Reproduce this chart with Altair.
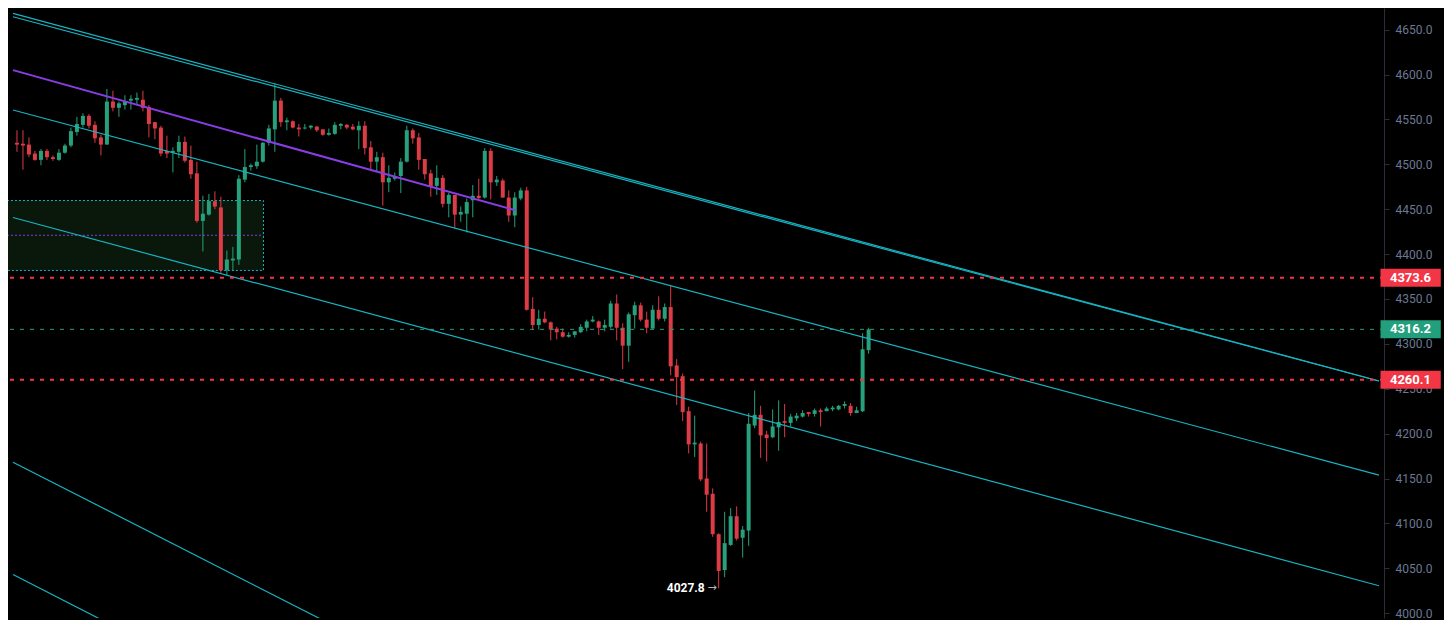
import altair as alt
import pandas as pd

# ---------------- candle data ----------------
opens = [4524, 4523, 4522, 4512, 4505, 4515, 4508, 4505, 4513, 4521,
         4536, 4544, 4554, 4544, 4530, 4522, 4570, 4563, 4566, 4571,
         4572, 4572, 4564, 4547, 4541, 4515, 4513, 4514, 4525, 4505,
         4490, 4437, 4444, 4459, 4452, 4382, 4393, 4394, 4483, 4497,
         4498, 4503, 4524, 4539, 4571, 4547, 4548, 4541, 4540, 4541,
         4542, 4539, 4533, 4534, 4543, 4544, 4542, 4538, 4543, 4519,
         4503, 4508, 4480, 4484, 4487, 4503, 4538, 4530, 4506, 4490,
         4476, 4485, 4456, 4466, 4444, 4445, 4460, 4465, 4463, 4515,
         4480, 4482, 4463, 4443, 4462, 4471, 4339, 4321, 4328, 4324,
         4317, 4313, 4308, 4310, 4313, 4318, 4325, 4325, 4318, 4319,
         4345, 4318, 4298, 4332, 4343, 4327, 4317, 4338, 4328, 4341,
         4276, 4264, 4225, 4188, 4189, 4150, 4133, 4088, 4048, 4076,
         4108, 4084, 4092, 4209, 4221, 4199, 4196, 4207, 4214, 4212,
         4217, 4219, 4224, 4222, 4226, 4225, 4227, 4227, 4231, 4231,
         4223, 4225, 4293]
highs = [4538, 4538, 4530, 4515, 4517, 4517, 4510, 4517, 4523, 4541,
         4553, 4557, 4556, 4548, 4533, 4584, 4582, 4570, 4577, 4577,
         4580, 4582, 4566, 4547, 4543, 4532, 4519, 4532, 4531, 4521,
         4503, 4465, 4467, 4470, 4464, 4404, 4408, 4488, 4517, 4501,
         4522, 4525, 4544, 4590, 4574, 4552, 4549, 4545, 4545, 4544,
         4543, 4539, 4540, 4547, 4546, 4545, 4545, 4548, 4548, 4526,
         4514, 4513, 4499, 4491, 4507, 4543, 4540, 4535, 4506, 4494,
         4499, 4488, 4468, 4466, 4453, 4462, 4477, 4484, 4518, 4518,
         4487, 4484, 4471, 4469, 4474, 4475, 4352, 4338, 4336, 4325,
         4319, 4317, 4313, 4314, 4322, 4327, 4331, 4326, 4327, 4348,
         4355, 4323, 4335, 4347, 4346, 4336, 4343, 4353, 4345, 4365,
         4283, 4267, 4230, 4220, 4191, 4189, 4139, 4089, 4113, 4117,
         4119, 4097, 4223, 4248, 4231, 4203, 4227, 4237, 4233, 4222,
         4223, 4226, 4224, 4228, 4228, 4230, 4231, 4232, 4236, 4234,
         4230, 4312, 4318]
lows = [4514, 4494, 4508, 4504, 4499, 4505, 4504, 4504, 4512, 4519,
        4532, 4541, 4540, 4524, 4510, 4522, 4559, 4553, 4561, 4561,
        4567, 4559, 4530, 4528, 4509, 4507, 4491, 4507, 4502, 4484,
        4435, 4403, 4443, 4450, 4378, 4376, 4382, 4388, 4480, 4493,
        4495, 4502, 4521, 4514, 4542, 4538, 4540, 4531, 4539, 4539,
        4536, 4532, 4532, 4533, 4539, 4539, 4538, 4517, 4511, 4494,
        4492, 4454, 4469, 4482, 4468, 4502, 4523, 4494, 4483, 4464,
        4466, 4452, 4441, 4429, 4436, 4424, 4441, 4461, 4462, 4461,
        4476, 4463, 4436, 4430, 4460, 4337, 4316, 4316, 4323, 4304,
        4305, 4307, 4307, 4307, 4312, 4314, 4324, 4310, 4314, 4317,
        4304, 4272, 4280, 4317, 4325, 4312, 4317, 4326, 4325, 4265,
        4232, 4214, 4178, 4174, 4147, 4113, 4085, 4027.8, 4040, 4075,
        4081, 4062, 4075, 4206, 4173, 4169, 4195, 4181, 4196, 4208,
        4214, 4218, 4219, 4219, 4208, 4225, 4225, 4226, 4228, 4220,
        4223, 4224, 4289]
closes = [4522, 4521, 4511, 4505, 4515, 4508, 4506, 4513, 4521, 4537,
          4545, 4554, 4543, 4529, 4522, 4570, 4563, 4568, 4570, 4573,
          4574, 4563, 4545, 4540, 4512, 4512, 4515, 4525, 4504, 4489,
          4437, 4445, 4459, 4453, 4382, 4394, 4395, 4484, 4497, 4499,
          4503, 4524, 4540, 4571, 4547, 4549, 4541, 4539, 4541, 4543,
          4538, 4533, 4535, 4544, 4545, 4541, 4539, 4543, 4518, 4503,
          4508, 4480, 4485, 4487, 4503, 4538, 4529, 4505, 4489, 4476,
          4485, 4456, 4466, 4444, 4447, 4458, 4465, 4462.5, 4515, 4480,
          4483, 4463, 4443, 4463, 4471, 4338, 4321, 4328, 4324, 4316,
          4313, 4308, 4310, 4314, 4319, 4325, 4327, 4318, 4321, 4345,
          4318, 4298, 4333, 4343, 4327, 4318, 4338, 4328, 4341, 4275,
          4263, 4224, 4188, 4190, 4149, 4132, 4088, 4047, 4078, 4108,
          4083, 4093, 4211, 4221, 4198, 4195, 4208, 4213, 4212, 4219,
          4220, 4223, 4222, 4226, 4224, 4228, 4229, 4231, 4233, 4223,
          4226, 4294, 4316.2]

# ---------------- drawings (bar index, price) ----------------
chan_names = ["A1", "A2", "B", "C", "D", "E"]
chan_x1 = [-0.66, -0.66, -0.66, -0.66, -0.66, -0.66]
chan_p1 = [4668.2, 4664.5, 4560.6, 4440.8, 4168.2, 4043.1]
chan_x2 = [227.1, 227.1, 227.1, 227.1, 65.0, 32.2]
chan_p2 = [4258.6, 4258.6, 4153.8, 4030.5, 3944.5, 3930.6]

purple_x = [-0.66, 83.1]
purple_p = [4605.0, 4448.8]

zone_x = [-3.0, 41.1]
zone_p = [4381.8, 4459.7]
zone_mid = [4421.0]

level_prices = [4373.6, 4260.1]
last_price = [4316.2]
tag_prices = [4373.6, 4316.2, 4260.1]
tag_labels = ["4373.6", "4316.2", "4260.1"]
tag_kind = ["red", "green", "red"]

low_idx = [117]
low_price = [4027.8]
low_label = ["4027.8"]

axis_values = [4000, 4050, 4100, 4150, 4200, 4250, 4300, 4350, 4400,
               4450, 4500, 4550, 4600, 4650]

# ---------------- styling ----------------
UP = "#26a17b"
DOWN = "#dc3c45"
CYAN = "#17b4c2"
PURPLE = "#8a3de4"
RED = "#f23645"
TAG_GREEN = "#22a07e"
BG = "#000000"

X_DOM = [-0.66, 227.1]
Y_DOM = [3994.6, 4674.2]

xs = alt.Scale(domain=X_DOM, nice=False, zero=False)
ys = alt.Scale(domain=Y_DOM, nice=False, zero=False)
yax = alt.Axis(orient="right", values=axis_values, format=".1f", title=None,
               grid=False, labelColor="#6c7894", labelFont="Roboto",
               labelFontSize=12, labelPadding=6, tickColor="#2a2e39",
               tickSize=5, domainColor="#2a2e39", labelFlush=False)


def X(f):
    return alt.X(f, type="quantitative", scale=xs, axis=None)


def Y(f):
    return alt.Y(f, type="quantitative", scale=ys, axis=yax)


df = pd.DataFrame({"i": list(range(len(opens))), "open": opens, "high": highs,
                   "low": lows, "close": closes})
df["col"] = [UP if c >= o else DOWN for o, c in zip(opens, closes)]

base = alt.Chart(df)
wicks = base.mark_rule(strokeWidth=1, clip=True).encode(
    x=X("i"), y=Y("low"), y2="high",
    color=alt.Color("col:N", scale=None, legend=None))
bodies = base.mark_bar(size=4, clip=True).encode(
    x=X("i"), y=Y("open"), y2="close",
    color=alt.Color("col:N", scale=None, legend=None))

zone_df = pd.DataFrame({"x0": [zone_x[0]], "x1": [zone_x[1]],
                        "p0": [zone_p[0]], "p1": [zone_p[1]], "m": zone_mid})
zone = alt.Chart(zone_df).mark_rect(
    clip=True, fill="#0a180b", stroke=CYAN, strokeWidth=1,
    strokeDash=[2, 2]).encode(x=X("x0"), x2="x1", y=Y("p0"), y2="p1")
zone_mid_line = alt.Chart(zone_df).mark_rule(
    clip=True, color=PURPLE, strokeWidth=1, strokeDash=[2, 2]).encode(
    x=X("x0"), x2="x1", y=Y("m"))

chan_df = pd.DataFrame({"name": chan_names, "x1": chan_x1, "p1": chan_p1,
                        "x2": chan_x2, "p2": chan_p2})
channels = alt.Chart(chan_df).mark_rule(
    clip=True, color=CYAN, strokeWidth=1.2).encode(
    x=X("x1"), x2="x2", y=Y("p1"), y2="p2", detail="name:N")

pur_df = pd.DataFrame({"x1": [purple_x[0]], "x2": [purple_x[1]],
                       "p1": [purple_p[0]], "p2": [purple_p[1]]})
purple = alt.Chart(pur_df).mark_rule(
    clip=True, color=PURPLE, strokeWidth=2).encode(
    x=X("x1"), x2="x2", y=Y("p1"), y2="p2")

lvl_df = pd.DataFrame({"p": level_prices})
levels = alt.Chart(lvl_df).mark_rule(
    clip=True, color=RED, strokeWidth=2, strokeDash=[4, 6]).encode(y=Y("p"))
last_df = pd.DataFrame({"p": last_price})
last_line = alt.Chart(last_df).mark_rule(
    clip=True, color=UP, strokeWidth=1, strokeDash=[4, 6]).encode(y=Y("p"))

tag_df = pd.DataFrame({"p": tag_prices, "label": tag_labels, "kind": tag_kind})
tag_df["col"] = [RED if k == "red" else TAG_GREEN for k in tag_kind]
tags_base = alt.Chart(tag_df).transform_calculate(
    lo="datum.p - 10", hi="datum.p + 10", bx0="227.35", bx1="237.4",
    bxm="232.35")
tag_boxes = tags_base.mark_rect(clip=False).encode(
    x=X("bx0"), x2="bx1", y=Y("lo"), y2="hi",
    color=alt.Color("col:N", scale=None, legend=None))
tag_text = tags_base.mark_text(
    clip=False, color="#ffffff", font="Roboto", fontSize=13,
    fontWeight="bold", align="center", baseline="middle").encode(
    x=X("bxm"), y=Y("p"), text="label:N")

low_df = pd.DataFrame({"i": low_idx, "p": low_price, "label": low_label})
low_text = alt.Chart(low_df).mark_text(
    color="#ffffff", font="Roboto", fontSize=12, fontWeight="bold",
    align="right", baseline="middle", dx=-14).encode(
    x=X("i"), y=Y("p"), text="label:N")
low_arrow = alt.Chart(low_df).mark_text(
    color="#b2b5be", font="DejaVu Sans", fontSize=11, align="right",
    baseline="middle", dx=-2).encode(
    x=X("i"), y=Y("p"), text=alt.value("→"))

chart = alt.layer(
    zone, zone_mid_line, wicks, bodies, channels, purple, levels, last_line,
    low_text, low_arrow, tag_boxes, tag_text
).properties(
    width=1436, height=612,
    autosize=alt.AutoSizeParams(type="fit", contains="padding"),
    padding={"left": 0, "top": 0, "right": 0, "bottom": 0},
    background=BG,
).configure_view(stroke=None)

chart.save("out.html", embed_options={"renderer": "svg", "actions": False})
